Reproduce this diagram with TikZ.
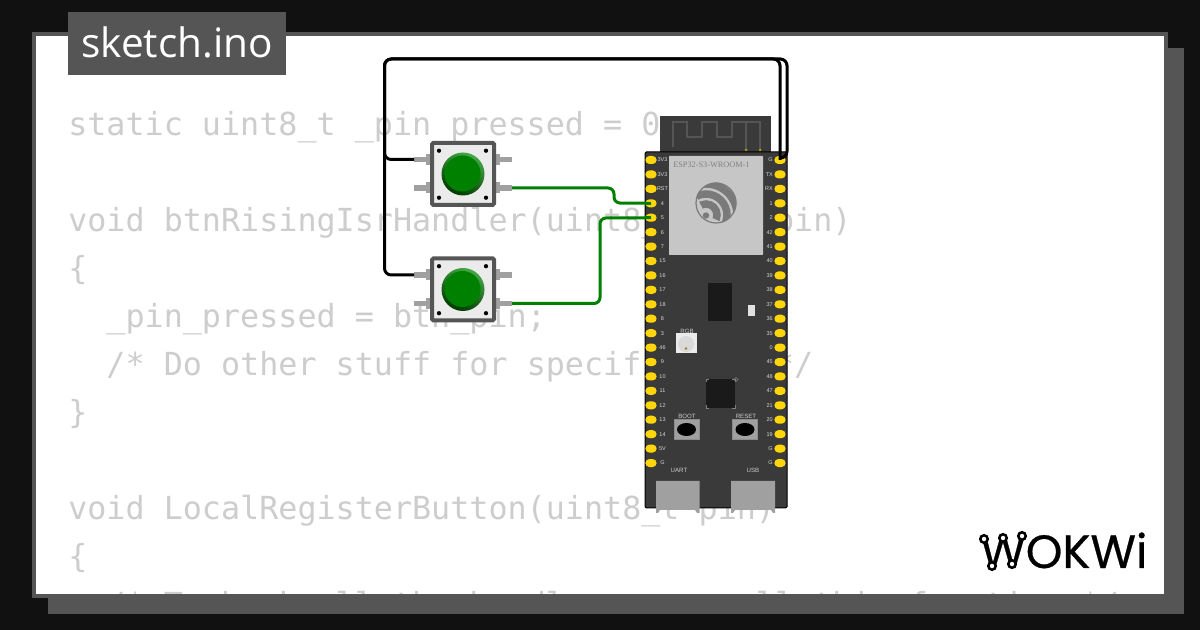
\documentclass[tikz,border=0pt]{standalone}
\usepackage{fontspec}
\setmainfont{Liberation Sans}
\newfontfamily\codefont{DejaVu Sans Mono}
\newfontfamily\tabfont{Open Sans}
\newfontfamily\logofont[FakeBold=0.6]{Poppins}
\newfontfamily\chipfont{Liberation Serif}
\usetikzlibrary{positioning}
\definecolor{pagedark}{HTML}{111111}
\definecolor{framegray}{HTML}{555555}
\definecolor{codegray}{HTML}{CDCDCD}
\definecolor{boardgray}{HTML}{3A3A3A}
\definecolor{pingold}{HTML}{FFD60A}
\definecolor{partgray}{HTML}{A0A0A0}
\definecolor{shieldgray}{HTML}{C6C6C6}
\definecolor{chipblack}{HTML}{1A1A1A}
\definecolor{wiregreen}{HTML}{008000}
\definecolor{ballhigh}{HTML}{45A845}
\definecolor{balllow}{HTML}{003A00}
\tikzset{
  codeline/.style={anchor=base west,inner sep=0pt,text=codegray,font=\codefont\fontsize{23.8}{24}\selectfont},
  pinpad/.style={rectangle,rounded corners=3pt,fill=pingold,inner sep=0pt,minimum width=8.4pt,minimum height=6pt},
  pinlabel/.style={inner sep=0pt,text=black!15,font=\fontsize{4.1}{5}\selectfont},
  partlabel/.style={inner sep=0pt,text=black!20,font=\fontsize{4.6}{5}\selectfont},
  wireblack/.style={draw=black,line width=2.25pt,rounded corners=5pt},
  wiregrn/.style={draw=wiregreen,line width=2.25pt,rounded corners=4.5pt},
  btnleg/.style={draw=partgray,line width=3.8pt},
  btntab/.style={fill=partgray},
  btnbody/.style={draw=framegray,line width=3pt,fill=black!8,rounded corners=1pt,minimum size=46.5pt,inner sep=0pt},
  btnhole/.style={circle,fill=black,inner sep=0pt,minimum size=3.2pt},
  smallbtn/.style={fill=partgray,draw=black!45,line width=.5pt},
  logoknob/.style={circle,draw=black,fill=white,line width=1.9pt,inner sep=0pt,minimum size=5.6pt}
}
\begin{document}
\begin{tikzpicture}[x=0.75pt,y=-0.75pt]
  \useasboundingbox (0,0) rectangle (1200,630);
  % frame
  \fill[pagedark] (0,0) rectangle (1200,630);
  \fill[framegray] (48,48) rectangle (1184,614);
  \fill[framegray] (32,32) rectangle (1168,598);
  \fill[white] (36,36) rectangle (1164,594);
  % code behind the parts
  \begin{scope}
    \clip (36,36) rectangle (1164,594);
    \node[codeline] (code1) at (68,136) {static uint8\_t \_pin\_pressed = 0;};
    \node[codeline] (code2) at (68,232) {void btnRisingIsrHandler(uint8\_t btn\_pin)};
    \node[codeline] (code3) at (68,280) {\{};
    \node[codeline] (code4) at (68,328) {\ \ \_pin\_pressed = btn\_pin;};
    \node[codeline] (code5) at (68,376) {\ \ /* Do other stuff for specific pin */};
    \node[codeline] (code6) at (68,424) {\}};
    \node[codeline] (code7) at (68,520) {void LocalRegisterButton(uint8\_t pin)};
    \node[codeline] (code8) at (68,568) {\{};
    \node[codeline] (code9) at (68,616) {\ \ /* To hook all the handlers up, call this function */};
  \end{scope}
  % tab
  \fill[framegray] (68,12) rectangle (286,75);
  \node[anchor=base west,inner sep=0pt,text=white,font=\tabfont\fontsize{30.4}{30}\selectfont] (tab) at (81,58) {sketch.ino};
  % board
  \fill[boardgray] (660,116) rectangle (771,153);
  \draw[framegray,line width=2pt] (673,147) -- (673,122) -- (687,122) -- (687,137) -- (702,137) -- (702,122) -- (717,122) -- (717,137) -- (732,137) -- (732,122) -- (760,122) -- (760,150);
  \draw[framegray,line width=2pt] (746,122) -- (746,150);
  \fill[pingold!70!black] (746,150) circle [radius=1.5];
  \fill[pingold!70!black] (760,150) circle [radius=1.5];
  \draw[fill=boardgray,draw=black,line width=.75pt,rounded corners=1pt] (645,152) rectangle (787,508);
  \fill[shieldgray,rounded corners=.5pt] (669,156) rectangle (763,255);
  \node[anchor=base west,inner sep=0pt,text=black!50,font=\chipfont\fontsize{6.2}{7}\selectfont] (wroom) at (673,168) {ESP32-S3-WROOM-1};
  % logo on the shield
  \begin{scope}
    \clip (716,203) circle [radius=20.5];
    \clip (706,215) -- (686,176) -- (750,176) -- (750,235) -- cycle;
    \draw[black!52,line width=5.6pt] (706,215) circle [radius=11];
    \draw[black!52,line width=5.6pt] (706,215) circle [radius=21];
    \draw[black!52,line width=5.6pt] (706,215) circle [radius=31];
  \end{scope}
  \draw[black!52,line width=.9pt] (716,203) circle [radius=20];
  \fill[black!52] (706,215.5) circle [radius=3.2];
  % parts of the board
  \fill[chipblack] (708,283) rectangle (732,321);
  \fill[black!12] (748,305) rectangle (755,316);
  \fill[black!8] (676,333) rectangle (696.5,353);
  \fill[black!15] (686,344) circle [radius=8];
  \fill[pingold!60!black] (686,348.5) circle [radius=1.3];
  \node[partlabel] (rgb) at (687,331) {RGB};
  \fill[chipblack] (706,379.5) rectangle (735,408);
  \draw[black!50,line width=.4pt] (706,382) -- (706,379.5) -- (709,379.5) (732,379.5) -- (735,379.5) -- (735,382) (735,405) -- (735,408) -- (732,408) (709,408) -- (706,408) -- (706,405);
  \draw[black!50,line width=.4pt] (736,377.5) -- (738,379.5) -- (736,381.5) -- (734,379.5) -- cycle;
  \draw[smallbtn] (674,419.5) rectangle (699,439);
  \fill[black] (686.5,429.5) ellipse [x radius=9.5,y radius=6.5];
  \draw[smallbtn] (732,419.5) rectangle (757,439);
  \fill[black] (745,429.5) ellipse [x radius=9.5,y radius=6.5];
  \node[partlabel] (boot) at (687,416) {BOOT};
  \node[partlabel] (reset) at (746,416) {RESET};
  \node[partlabel] (uart) at (679,470) {UART};
  \node[partlabel] (usb) at (753,470) {USB};
  \fill[partgray] (656,481) -- (699.5,481) -- (699.5,513) -- (697,513) -- (695,510) -- (660,510) -- (658,513) -- (656,513) -- cycle;
  \fill[partgray] (731,481) -- (775,481) -- (775,513) -- (773,513) -- (771,510) -- (735,510) -- (733,513) -- (731,513) -- cycle;
  % pins
  \foreach \name [count=\i from 0] in {3V3,3V3,RST,4,5,6,7,15,16,17,18,8,3,46,9,10,11,12,13,14,5V,G}{
    \node[pinpad] (pinL\i) at (651,{160+14.43*\i}) {};
    \node[pinlabel] (nameL\i) at (662.5,{160+14.43*\i}) {\name};
  }
  \foreach \name [count=\i from 0] in {G,TX,RX,1,2,42,41,40,39,38,37,36,35,0,45,48,47,21,20,19,G,G}{
    \node[pinpad] (pinR\i) at (780,{160+14.43*\i}) {};
    \node[pinlabel,anchor=east] (nameR\i) at (773,{160+14.43*\i}) {\name};
  }
  % push buttons
  \foreach \b/\y in {A/0,B/115.5}{
    \coordinate (\b tl) at (414,{159.5+\y});
    \coordinate (\b bl) at (414,{188+\y});
    \coordinate (\b tr) at (512,{159.5+\y});
    \coordinate (\b br) at (512,{188+\y});
    \draw[btnleg] (\b tl) -- ++(20,0);
    \draw[btnleg] (\b bl) -- ++(20,0);
    \draw[btnleg] (\b tr) -- ++(-20,0);
    \draw[btnleg] (\b br) -- ++(-20,0);
    \fill[btntab] (426,{154+\y}) rectangle (432,{165+\y});
    \fill[btntab] (426,{182.5+\y}) rectangle (432,{193.5+\y});
    \fill[btntab] (494,{154+\y}) rectangle (500,{165+\y});
    \fill[btntab] (494,{182.5+\y}) rectangle (500,{193.5+\y});
    \node[btnbody] (btn\b) at (463,{174+\y}) {};
    \node[btnhole] (hole\b a) at (439,{150.7+\y}) {};
    \node[btnhole] (hole\b b) at (486,{150.7+\y}) {};
    \node[btnhole] (hole\b c) at (439,{197.7+\y}) {};
    \node[btnhole] (hole\b d) at (486,{197.7+\y}) {};
    \shade[top color=ballhigh,bottom color=balllow,shading angle=-25] (463,{174+\y}) circle [radius=21.5];
    \fill[wiregreen] (462.5,{173.5+\y}) circle [radius=18];
  }
  % wires
  \coordinate (gndend) at (780,158);
  \draw[wireblack] (Atl) -| (384.5,59) -| (pinR0.center);
  \draw[wireblack] (Btl) -| (384.5,59) -| (787,158) [sharp corners] -- (gndend);
  \draw[wiregrn] (Abr) -| (614,203) -- (pinL3.center);
  \draw[wiregrn] (Bbr) -| (600,218) -- (pinL4.center);
  % wokwi logo
  \node[anchor=base west,inner sep=0pt,text=black,font=\logofont\fontsize{35}{35}\selectfont] (wokwi) at (980,568) {WOKWi};
  \node[logoknob] (knobA) at (984,539) {};
  \node[logoknob] (knobB) at (1003,538) {};
  \node[logoknob] (knobC) at (1022,536) {};
  \node[logoknob] (knobD) at (992,566) {};
  \node[logoknob] (knobE) at (1012,564) {};
\end{tikzpicture}
\end{document}
